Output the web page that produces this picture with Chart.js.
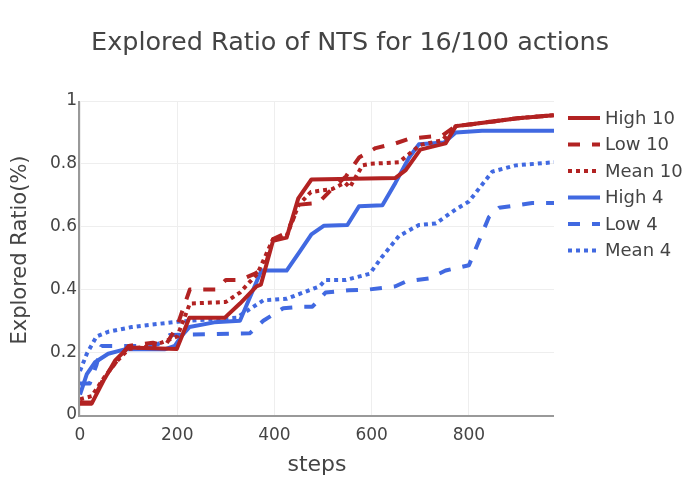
<!DOCTYPE html>
<html><head><meta charset="utf-8">
<script src="https://cdn.jsdelivr.net/npm/chart.js@4/dist/chart.umd.min.js"></script>
<style>html,body{margin:0;padding:0;background:#fff}canvas{display:block}</style>
</head><body>
<canvas id="c" width="700" height="500"></canvas>
<script>
const title = "Explored Ratio of NTS for 16/100 actions";
const xTitle = "steps";
const yTitle = "Explored Ratio(%)";
const xTicks = [0, 200, 400, 600, 800];
const yTicks = [0, 0.2, 0.4, 0.6, 0.8, 1];

const labels = ["High 10", "Low 10", "Mean 10", "High 4", "Low 4", "Mean 4"];

const high10X = [0,24,50,72,99,199,225,298,329,363,372,397,425,449,476,649,670,700,752,773,800,850,900,975];
const high10Y = [.036,.036,.114,.173,.215,.21,.31,.31,.355,.41,.415,.555,.565,.69,.75,.755,.78,.845,.865,.92,.925,.935,.945,.955];

const low10X = [0,24,50,75,100,150,175,199,226,280,300,330,360,380,397,425,452,490,512,547,574,608,649,677,745,773,800,850,900,975];
const low10Y = [.04,.04,.12,.17,.22,.23,.22,.28,.40,.40,.43,.43,.45,.47,.56,.58,.67,.675,.71,.76,.82,.85,.865,.88,.89,.92,.925,.935,.945,.955];

const mean10X = [0,24,50,75,100,150,200,226,300,329,365,397,425,450,475,519,545,555,581,598,656,700,745,773,800,850,900,975];
const mean10Y = [.05,.06,.12,.17,.21,.22,.25,.355,.36,.39,.45,.56,.57,.67,.71,.72,.74,.725,.795,.80,.805,.86,.875,.92,.925,.935,.945,.955];

const high4X = [0,14,31,58,92,174,195,208,225,276,329,373,425,452,476,502,550,574,622,649,677,697,749,773,827,975];
const high4Y = [.065,.13,.168,.195,.209,.209,.22,.25,.28,.295,.30,.46,.46,.52,.575,.603,.605,.665,.668,.74,.82,.862,.868,.90,.905,.905];

const low4X = [0,20,34,44,125,160,185,349,377,418,459,478,505,553,596,649,670,718,752,800,841,862,930,975];
const low4Y = [.10,.10,.16,.22,.22,.225,.255,.26,.30,.34,.345,.345,.39,.397,.40,.41,.425,.435,.46,.477,.63,.66,.675,.675];

const mean4X = [0,14,34,58,106,160,201,226,322,377,425,459,493,505,547,596,622,656,697,732,773,800,848,896,975];
const mean4Y = [.14,.195,.25,.265,.28,.29,.297,.30,.31,.365,.37,.39,.41,.43,.43,.45,.505,.57,.605,.61,.655,.68,.775,.795,.805];

const RED = "#B22222", BLUE = "#4169E1";
const FONT = "'DejaVu Sans', Verdana, sans-serif";

function pts(xs, ys) { return xs.map((x, i) => ({x: x, y: ys[i]})); }
function ds(label, xs, ys, color, dash) {
  return { label, data: pts(xs, ys), borderColor: color, backgroundColor: color,
    borderWidth: 4, borderDash: dash, borderCapStyle: 'butt', borderJoinStyle: 'round',
    pointRadius: 0, tension: 0, fill: false };
}
const DASH = [12, 12], DOT = [4, 4], SOLID = [];

const overlay = {
  id: 'overlay',
  afterDraw(chart) {
    const ctx = chart.ctx;
    const a = chart.chartArea;
    ctx.save();
    ctx.fillStyle = '#444';
    ctx.textAlign = 'center'; ctx.textBaseline = 'middle';
    ctx.font = "25.5px " + FONT;
    ctx.fillText(title, 350, 43);
    ctx.font = "22px " + FONT;
    ctx.fillText(xTitle, (a.left + a.right) / 2, 465);
    ctx.save();
    ctx.translate(21, 250);
    ctx.rotate(-Math.PI / 2);
    ctx.font = "21px " + FONT;
    ctx.fillText(yTitle, 0, 0);
    ctx.restore();
    // legend
    ctx.font = "18px " + FONT;
    ctx.textAlign = 'left';
    chart.data.datasets.forEach((d, i) => {
      const y = 118 + i * 26.5;
      ctx.beginPath();
      ctx.strokeStyle = d.borderColor;
      ctx.lineWidth = 4;
      ctx.lineCap = 'butt';
      ctx.setLineDash(d.borderDash || []);
      ctx.moveTo(568, y); ctx.lineTo(600, y);
      ctx.stroke();
      ctx.setLineDash([]);
      ctx.fillStyle = '#444';
      ctx.fillText(d.label, 605, y + 1);
    });
    ctx.restore();
  },
  beforeDatasetsDraw(chart) {
    const ctx = chart.ctx, a = chart.chartArea;
    ctx.save();
    ctx.strokeStyle = '#999'; ctx.lineWidth = 2;
    ctx.beginPath();
    ctx.moveTo(a.left - 1, a.top); ctx.lineTo(a.left - 1, a.bottom + 1);
    ctx.lineTo(a.right, a.bottom + 1);
    ctx.stroke();
    ctx.restore();
  }
};

new Chart(document.getElementById('c'), {
  type: 'line',
  data: { datasets: [
    ds(labels[0], high10X, high10Y, RED, SOLID),
    ds(labels[1], low10X, low10Y, RED, DASH),
    ds(labels[2], mean10X, mean10Y, RED, DOT),
    ds(labels[3], high4X, high4Y, BLUE, SOLID),
    ds(labels[4], low4X, low4Y, BLUE, DASH),
    ds(labels[5], mean4X, mean4Y, BLUE, DOT),
  ]},
  options: {
    responsive: false, animation: false, devicePixelRatio: 1,
    layout: { padding: { left: 0, top: 101, right: 146, bottom: 0 } },
    plugins: { legend: { display: false }, title: { display: false }, tooltip: { enabled: false } },
    scales: {
      x: { type: 'linear', min: 0, max: 975,
        afterBuildTicks: s => { s.ticks = xTicks.map(v => ({value: v})); },
        afterFit: s => { s.height = 85; },
        grid: { color: '#eee', lineWidth: 1, drawTicks: false },
        border: { display: false },
        ticks: { color: '#444', font: { family: FONT, size: 17 }, padding: 10, maxRotation: 0 } },
      y: { min: 0, max: 1,
        afterBuildTicks: s => { s.ticks = yTicks.map(v => ({value: v})); },
        afterFit: s => { s.width = 80; },
        grid: { color: '#eee', lineWidth: 1, drawTicks: false },
        border: { display: false },
        ticks: { color: '#444', font: { family: FONT, size: 17 }, padding: 3,
          callback: v => String(+v.toFixed(1)) } }
    }
  },
  plugins: [overlay]
});
</script>
</body></html>
